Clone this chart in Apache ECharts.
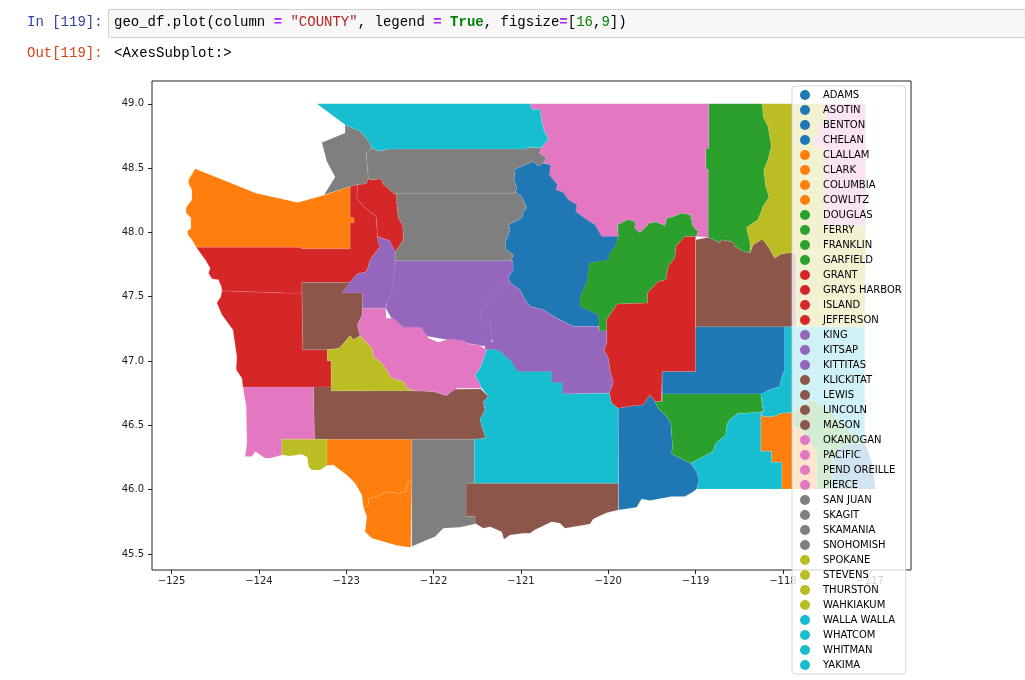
<!DOCTYPE html>
<html>
<head>
<meta charset="utf-8">
<style>
    html,body {margin:0;padding:0;background:#fff;width:1025px;height:680px;overflow:hidden;}
    #main {position:absolute;left:0;top:0;width:1025px;height:680px;}
    .mono {position:absolute;font-family:"Liberation Mono",monospace;font-size:14px;line-height:16px;white-space:pre;}
    .box {position:absolute;left:108px;top:9px;width:925px;height:27px;background:#f7f7f7;border:1px solid #cfcfcf;border-radius:2px;}
    .op {color:#aa22ff;font-weight:bold;}
    .str {color:#ba2121;}
    .kw {color:#008000;font-weight:bold;}
    .num {color:#008000;}
</style>
</head>
<body>
<div id="main"></div>
<div class="box"></div>
<div class="mono" style="left:27px;top:14px;color:#303f9f">In [119]:</div>
<div class="mono" style="left:114px;top:14px;color:#000">geo_df.plot(column <span class="op">=</span> <span class="str">"COUNTY"</span>, legend <span class="op">=</span> <span class="kw">True</span>, figsize<span class="op">=</span>[<span class="num">16</span>,<span class="num">9</span>])</div>
<div class="mono" style="left:27px;top:45px;color:#d84315">Out[119]:</div>
<div class="mono" style="left:114px;top:45px;color:#000">&lt;AxesSubplot:&gt;</div>
<script src="https://cdn.jsdelivr.net/npm/echarts@6/dist/echarts.min.js"></script>
<script>
// county outlines, lon/lat
var ADAMS = [[-119.000,47.266],[-117.978,47.266],[-117.978,46.931],[-118.016,46.866],[-118.035,46.801],[-118.150,46.776],[-118.245,46.744],[-119.382,46.744],[-119.382,46.918],[-119.000,46.918]];
var ASOTIN = [[-117.063,46.361],[-116.986,46.231],[-116.937,46.005],[-117.425,46.005],[-117.425,46.244],[-117.329,46.342],[-117.197,46.361]];
var BENTON = [[-119.523,46.737],[-119.465,46.685],[-119.428,46.633],[-119.332,46.568],[-119.282,46.516],[-119.263,46.334],[-119.274,46.278],[-119.057,46.205],[-118.988,46.140],[-118.959,46.075],[-118.988,46.005],[-119.027,45.984],[-119.122,45.946],[-119.274,45.946],[-119.523,45.915],[-119.618,45.928],[-119.675,45.863],[-119.881,45.842],[-119.885,46.633],[-119.732,46.651],[-119.599,46.659]];
var CHELAN = [[-121.067,48.492],[-120.953,48.526],[-120.858,48.551],[-120.801,48.518],[-120.744,48.539],[-120.659,48.526],[-120.209,48.176],[-119.885,47.968],[-120.038,47.476],[-120.103,47.268],[-120.400,47.268],[-120.590,47.333],[-120.744,47.398],[-120.896,47.423],[-120.953,47.476],[-121.010,47.553],[-121.125,47.608],[-121.144,47.657],[-121.087,47.709],[-121.117,47.773],[-121.087,47.826],[-121.170,47.864],[-121.182,47.917],[-121.125,48.020],[-121.144,48.059],[-120.991,48.111],[-120.972,48.162],[-120.934,48.189],[-120.991,48.279],[-121.067,48.318],[-121.048,48.344],[-121.079,48.409]];
var CLALLAM = [[-124.729,48.494],[-124.031,48.305],[-123.554,48.232],[-123.268,48.287],[-122.955,48.357],[-122.955,48.113],[-122.910,48.113],[-122.910,48.074],[-122.955,48.074],[-122.955,47.872],[-123.516,47.872],[-123.516,47.884],[-124.717,47.884],[-124.767,47.942],[-124.812,47.980],[-124.818,48.010],[-124.778,48.033],[-124.778,48.111],[-124.832,48.150],[-124.835,48.189],[-124.812,48.213],[-124.767,48.253],[-124.767,48.331],[-124.805,48.380],[-124.805,48.409]];
var CLARK = [[-122.803,45.860],[-122.764,45.790],[-122.784,45.673],[-122.707,45.622],[-122.574,45.596],[-122.440,45.570],[-122.345,45.557],[-122.261,45.552],[-122.249,46.075],[-122.288,46.062],[-122.326,45.984],[-122.403,45.972],[-122.535,45.984],[-122.650,45.946],[-122.746,45.933],[-122.746,45.881]];
var COLUMBIA = [[-118.253,46.594],[-118.226,46.568],[-118.112,46.568],[-118.016,46.594],[-117.901,46.599],[-117.883,46.594],[-117.883,46.490],[-117.806,46.478],[-117.615,46.296],[-117.615,46.005],[-118.012,46.005],[-118.012,46.213],[-118.130,46.213],[-118.130,46.299],[-118.253,46.299]];
var COWLITZ = [[-123.222,46.392],[-122.249,46.392],[-122.249,46.075],[-122.288,46.062],[-122.326,45.984],[-122.403,45.972],[-122.535,45.984],[-122.650,45.946],[-122.746,45.933],[-122.746,45.881],[-122.803,45.860],[-122.821,45.959],[-122.898,46.050],[-122.993,46.114],[-123.146,46.192],[-123.222,46.187]];
var DOUGLAS = [[-119.885,47.968],[-119.897,48.059],[-119.771,48.103],[-119.694,48.085],[-119.694,48.033],[-119.637,47.999],[-119.523,48.077],[-119.446,48.080],[-119.351,48.053],[-119.332,48.111],[-119.256,48.123],[-119.160,48.150],[-119.057,48.137],[-119.027,48.046],[-118.970,48.007],[-118.988,47.968],[-119.122,47.968],[-119.225,47.890],[-119.237,47.800],[-119.313,47.735],[-119.340,47.631],[-119.428,47.618],[-119.549,47.528],[-119.549,47.450],[-119.897,47.444],[-120.018,47.320],[-120.018,47.234],[-120.103,47.234],[-120.114,47.359],[-120.324,47.423],[-120.324,47.501],[-120.247,47.605],[-120.217,47.761],[-120.133,47.773],[-120.000,47.787],[-119.980,47.839],[-119.923,47.890]];
var FERRY = [[-118.848,49.000],[-118.233,49.000],[-118.226,48.901],[-118.169,48.823],[-118.130,48.668],[-118.169,48.564],[-118.218,48.487],[-118.195,48.357],[-118.158,48.274],[-118.226,48.201],[-118.283,48.098],[-118.416,48.038],[-118.370,47.903],[-118.378,47.839],[-118.473,47.859],[-118.550,47.890],[-118.570,47.924],[-118.702,47.942],[-118.722,47.917],[-118.856,47.963],[-118.856,48.492],[-118.882,48.492],[-118.882,48.655],[-118.848,48.655]];
var FRANKLIN = [[-119.465,46.685],[-119.382,46.685],[-119.382,46.744],[-118.253,46.744],[-118.233,46.641],[-118.218,46.607],[-118.416,46.594],[-118.512,46.594],[-118.615,46.542],[-118.645,46.490],[-118.653,46.425],[-118.767,46.361],[-118.798,46.301],[-118.874,46.270],[-119.057,46.205],[-119.274,46.278],[-119.263,46.334],[-119.282,46.516],[-119.332,46.568],[-119.428,46.633]];
var GARFIELD = [[-117.883,46.594],[-117.749,46.677],[-117.654,46.698],[-117.520,46.633],[-117.349,46.529],[-117.197,46.425],[-117.063,46.361],[-117.197,46.361],[-117.329,46.342],[-117.425,46.244],[-117.425,46.005],[-117.615,46.005],[-117.615,46.296],[-117.806,46.478],[-117.883,46.490]];
var GRANT = [[-119.122,47.968],[-118.988,47.968],[-119.000,47.966],[-119.000,46.918],[-119.382,46.918],[-119.389,46.744],[-119.389,46.685],[-119.465,46.685],[-119.523,46.737],[-119.599,46.659],[-119.732,46.651],[-119.885,46.633],[-119.961,46.672],[-119.988,46.750],[-119.943,46.828],[-119.980,46.931],[-120.000,47.022],[-120.049,47.087],[-120.018,47.139],[-120.018,47.320],[-119.897,47.444],[-119.549,47.450],[-119.549,47.528],[-119.428,47.618],[-119.340,47.631],[-119.313,47.735],[-119.237,47.800],[-119.225,47.890]];
var GRAYS_HARBOR = [[-124.423,47.546],[-123.680,47.528],[-123.508,47.528],[-123.497,47.087],[-123.215,47.087],[-123.215,47.001],[-123.173,47.001],[-123.173,46.797],[-124.183,46.797],[-124.194,46.866],[-124.260,46.931],[-124.252,47.034],[-124.297,47.242],[-124.363,47.304],[-124.423,47.359],[-124.481,47.450],[-124.435,47.501]];
var ISLAND = [[-122.872,48.372],[-122.776,48.378],[-122.746,48.417],[-122.707,48.409],[-122.601,48.417],[-122.574,48.375],[-122.478,48.318],[-122.421,48.292],[-122.421,48.230],[-122.403,48.113],[-122.352,48.059],[-122.345,47.942],[-122.440,47.845],[-122.506,47.937],[-122.593,47.955],[-122.643,47.968],[-122.658,48.123],[-122.803,48.201],[-122.879,48.267]];
var JEFFERSON = [[-122.955,48.357],[-122.872,48.372],[-122.879,48.267],[-122.803,48.201],[-122.658,48.123],[-122.643,47.968],[-122.612,47.890],[-122.726,47.787],[-122.764,47.696],[-122.879,47.675],[-122.955,47.610],[-123.508,47.610],[-123.508,47.528],[-123.680,47.528],[-124.423,47.546],[-124.431,47.579],[-124.462,47.631],[-124.538,47.639],[-124.577,47.683],[-124.557,47.722],[-124.614,47.787],[-124.717,47.884],[-123.516,47.884],[-123.516,47.872],[-122.955,47.872],[-122.955,48.074],[-122.910,48.074],[-122.910,48.113],[-122.955,48.113]];
var KING = [[-122.440,47.779],[-121.090,47.779],[-121.087,47.709],[-121.144,47.657],[-121.125,47.608],[-121.239,47.242],[-121.388,47.110],[-122.154,47.203],[-122.440,47.281],[-122.547,47.411]];
var KITSAP = [[-122.643,47.968],[-122.593,47.955],[-122.506,47.937],[-122.478,47.903],[-122.440,47.845],[-122.440,47.779],[-122.460,47.631],[-122.478,47.528],[-122.535,47.450],[-122.547,47.411],[-122.815,47.411],[-122.815,47.528],[-123.050,47.528],[-122.955,47.618],[-122.879,47.675],[-122.764,47.696],[-122.726,47.787],[-122.612,47.890],[-122.643,47.929]];
var KITTITAS = [[-121.125,47.608],[-121.010,47.553],[-120.953,47.476],[-120.896,47.423],[-120.744,47.398],[-120.590,47.333],[-120.400,47.268],[-120.114,47.268],[-120.103,47.234],[-120.018,47.234],[-120.018,47.139],[-120.049,47.087],[-120.000,47.022],[-119.980,46.931],[-119.943,46.828],[-119.988,46.750],[-120.522,46.744],[-121.010,46.814],[-121.391,47.087],[-121.411,47.094],[-121.411,47.139],[-121.323,47.151],[-121.353,47.294],[-121.430,47.294],[-121.468,47.372],[-121.316,47.528],[-121.239,47.579]];
var KLICKITAT = [[-121.628,46.050],[-119.885,46.050],[-119.885,45.842],[-120.018,45.821],[-120.171,45.772],[-120.209,45.733],[-120.495,45.700],[-120.552,45.739],[-120.647,45.751],[-120.839,45.687],[-120.896,45.661],[-120.972,45.661],[-121.125,45.648],[-121.193,45.614],[-121.220,45.673],[-121.353,45.712],[-121.430,45.700],[-121.525,45.739],[-121.525,45.790],[-121.628,45.790]];
var LEWIS = [[-123.375,46.797],[-123.173,46.797],[-123.173,46.768],[-122.307,46.770],[-122.212,46.768],[-122.002,46.762],[-121.849,46.731],[-121.792,46.781],[-121.460,46.783],[-121.373,46.723],[-121.430,46.682],[-121.411,46.620],[-121.468,46.542],[-121.403,46.400],[-121.533,46.392],[-123.364,46.392]];
var LINCOLN = [[-118.996,47.942],[-118.856,47.963],[-118.722,47.917],[-118.702,47.942],[-118.570,47.924],[-118.550,47.890],[-118.473,47.859],[-118.378,47.839],[-118.341,47.903],[-118.233,47.948],[-118.169,47.890],[-118.093,47.800],[-118.016,47.833],[-117.909,47.843],[-117.844,47.831],[-117.844,47.266],[-118.996,47.266]];
var MASON = [[-123.508,47.610],[-122.955,47.610],[-123.050,47.528],[-122.815,47.528],[-122.815,47.359],[-122.872,47.281],[-122.841,47.196],[-122.918,47.164],[-122.955,47.196],[-123.013,47.151],[-123.081,47.100],[-123.215,47.087],[-123.497,47.087]];
var OKANOGAN = [[-120.876,49.000],[-120.896,48.979],[-120.858,48.953],[-120.781,48.959],[-120.762,48.862],[-120.736,48.798],[-120.686,48.725],[-120.762,48.660],[-120.789,48.617],[-120.705,48.578],[-120.744,48.539],[-120.659,48.526],[-120.675,48.448],[-120.583,48.370],[-120.598,48.331],[-120.515,48.310],[-120.458,48.253],[-120.361,48.214],[-120.373,48.162],[-120.247,48.098],[-120.152,48.059],[-120.075,47.968],[-119.885,47.968],[-119.897,48.059],[-119.771,48.103],[-119.694,48.085],[-119.694,48.033],[-119.637,47.999],[-119.523,48.077],[-119.446,48.080],[-119.351,48.053],[-119.332,48.111],[-119.256,48.123],[-119.160,48.150],[-119.057,48.137],[-119.027,48.046],[-118.970,48.007],[-118.988,47.968],[-118.856,47.963],[-118.856,48.492],[-118.882,48.492],[-118.882,48.655],[-118.848,48.655],[-118.848,49.000]];
var PACIFIC = [[-124.183,46.797],[-123.375,46.797],[-123.364,46.392],[-123.737,46.392],[-123.737,46.270],[-123.871,46.244],[-123.928,46.244],[-124.042,46.296],[-124.080,46.257],[-124.157,46.257],[-124.137,46.361],[-124.145,46.646]];
var PEND_OREILLE = [[-117.509,49.000],[-117.051,49.000],[-117.051,48.051],[-117.517,48.051],[-117.517,48.668],[-117.646,48.668],[-117.646,48.746],[-117.586,48.746],[-117.586,48.850],[-117.509,48.850]];
var PIERCE = [[-122.815,47.411],[-122.547,47.411],[-122.543,47.333],[-122.460,47.333],[-122.345,47.263],[-122.143,47.263],[-122.059,47.178],[-121.945,47.146],[-121.831,47.170],[-121.659,47.157],[-121.582,47.131],[-121.487,47.126],[-121.391,47.087],[-121.468,46.944],[-121.525,46.892],[-121.448,46.789],[-121.734,46.789],[-121.849,46.731],[-122.002,46.762],[-122.212,46.768],[-122.307,46.789],[-122.345,46.840],[-122.478,46.866],[-122.593,46.983],[-122.689,47.034],[-122.707,47.100],[-122.841,47.196],[-122.872,47.281],[-122.815,47.359]];
var SAN_JUAN = [[-123.013,48.837],[-122.833,48.785],[-122.726,48.694],[-122.707,48.655],[-122.772,48.617],[-122.764,48.564],[-122.746,48.417],[-122.776,48.378],[-122.872,48.372],[-122.955,48.357],[-123.253,48.292],[-123.127,48.430],[-123.222,48.551],[-123.279,48.699],[-123.013,48.772]];
var SKAGIT = [[-122.707,48.655],[-122.612,48.632],[-122.517,48.648],[-120.934,48.648],[-120.922,48.660],[-120.762,48.660],[-120.789,48.617],[-120.705,48.578],[-120.744,48.539],[-120.801,48.518],[-120.858,48.551],[-120.953,48.526],[-121.067,48.492],[-121.079,48.409],[-121.048,48.344],[-121.067,48.318],[-121.067,48.305],[-122.460,48.305],[-122.574,48.375],[-122.601,48.417],[-122.707,48.409],[-122.746,48.417],[-122.764,48.564],[-122.772,48.617]];
var SKAMANIA = [[-122.249,46.392],[-121.533,46.392],[-121.533,46.050],[-121.628,46.050],[-121.628,45.790],[-121.525,45.790],[-121.525,45.733],[-121.697,45.708],[-121.888,45.700],[-121.983,45.634],[-122.078,45.609],[-122.249,45.557]];
var SNOHOMISH = [[-122.460,48.305],[-121.067,48.305],[-121.067,48.318],[-120.991,48.279],[-120.934,48.189],[-120.972,48.162],[-120.991,48.111],[-121.144,48.059],[-121.125,48.020],[-121.182,47.917],[-121.170,47.864],[-121.087,47.826],[-121.117,47.773],[-121.090,47.779],[-122.440,47.779],[-122.440,47.845],[-122.345,47.942],[-122.352,48.059],[-122.403,48.113],[-122.421,48.230],[-122.421,48.292]];
var SPOKANE = [[-117.844,47.831],[-117.715,47.857],[-117.555,47.802],[-117.463,47.903],[-117.372,48.051],[-117.051,48.051],[-117.063,47.266],[-117.844,47.266]];
var STEVENS = [[-118.233,49.000],[-117.509,49.000],[-117.509,48.850],[-117.586,48.850],[-117.586,48.746],[-117.646,48.746],[-117.646,48.668],[-117.517,48.668],[-117.517,48.051],[-117.372,48.051],[-117.463,47.903],[-117.555,47.802],[-117.715,47.857],[-117.844,47.831],[-117.909,47.843],[-118.016,47.833],[-118.093,47.800],[-118.169,47.890],[-118.233,47.948],[-118.341,47.903],[-118.378,47.839],[-118.370,47.903],[-118.416,48.038],[-118.283,48.098],[-118.226,48.201],[-118.158,48.274],[-118.195,48.357],[-118.218,48.487],[-118.169,48.564],[-118.130,48.668],[-118.169,48.823],[-118.226,48.901]];
var THURSTON = [[-123.215,47.087],[-123.081,47.100],[-123.013,47.151],[-122.955,47.196],[-122.918,47.164],[-122.841,47.196],[-122.707,47.100],[-122.689,47.034],[-122.593,46.983],[-122.478,46.866],[-122.345,46.840],[-122.307,46.789],[-122.212,46.768],[-123.173,46.768],[-123.173,47.001],[-123.215,47.001]];
var WAHKIAKUM = [[-123.737,46.392],[-123.222,46.392],[-123.222,46.187],[-123.299,46.153],[-123.394,46.153],[-123.432,46.179],[-123.444,46.252],[-123.508,46.275],[-123.642,46.262],[-123.737,46.270]];
var WALLA_WALLA = [[-119.057,46.205],[-118.874,46.270],[-118.798,46.301],[-118.767,46.361],[-118.653,46.425],[-118.645,46.490],[-118.615,46.542],[-118.512,46.594],[-118.416,46.594],[-118.218,46.607],[-118.253,46.594],[-118.253,46.299],[-118.130,46.299],[-118.130,46.213],[-118.012,46.213],[-118.012,46.005],[-118.988,46.005],[-118.959,46.075],[-118.988,46.140]];
var WHATCOM = [[-123.336,49.000],[-120.876,49.000],[-120.896,48.979],[-120.858,48.953],[-120.781,48.959],[-120.762,48.862],[-120.736,48.798],[-120.686,48.725],[-120.762,48.660],[-120.922,48.660],[-120.934,48.648],[-122.517,48.648],[-122.612,48.632],[-122.707,48.655],[-122.726,48.694],[-122.833,48.785],[-123.013,48.837]];
var WHITMAN = [[-117.978,47.266],[-117.063,47.266],[-117.063,46.361],[-117.197,46.425],[-117.349,46.529],[-117.520,46.633],[-117.654,46.698],[-117.749,46.677],[-117.883,46.594],[-117.901,46.599],[-118.016,46.594],[-118.112,46.568],[-118.226,46.568],[-118.253,46.594],[-118.218,46.607],[-118.233,46.641],[-118.253,46.744],[-118.150,46.776],[-118.035,46.801],[-118.016,46.866],[-117.978,46.931]];
var YAKIMA = [[-121.391,47.087],[-121.296,47.092],[-121.239,47.073],[-121.105,46.996],[-121.041,46.918],[-120.647,46.918],[-120.647,46.832],[-120.522,46.832],[-120.522,46.744],[-119.988,46.750],[-119.961,46.672],[-119.885,46.633],[-119.885,46.050],[-121.533,46.050],[-121.533,46.392],[-121.403,46.400],[-121.468,46.542],[-121.411,46.620],[-121.430,46.682],[-121.373,46.723],[-121.448,46.789],[-121.525,46.892],[-121.468,46.944]];

var countyNames = ['ADAMS','ASOTIN','BENTON','CHELAN','CLALLAM','CLARK','COLUMBIA','COWLITZ','DOUGLAS','FERRY','FRANKLIN','GARFIELD','GRANT','GRAYS HARBOR','ISLAND','JEFFERSON','KING','KITSAP','KITTITAS','KLICKITAT','LEWIS','LINCOLN','MASON','OKANOGAN','PACIFIC','PEND OREILLE','PIERCE','SAN JUAN','SKAGIT','SKAMANIA','SNOHOMISH','SPOKANE','STEVENS','THURSTON','WAHKIAKUM','WALLA WALLA','WHATCOM','WHITMAN','YAKIMA'];
var countyShapes = [ADAMS,ASOTIN,BENTON,CHELAN,CLALLAM,CLARK,COLUMBIA,COWLITZ,DOUGLAS,FERRY,FRANKLIN,GARFIELD,GRANT,GRAYS_HARBOR,ISLAND,JEFFERSON,KING,KITSAP,KITTITAS,KLICKITAT,LEWIS,LINCOLN,MASON,OKANOGAN,PACIFIC,PEND_OREILLE,PIERCE,SAN_JUAN,SKAGIT,SKAMANIA,SNOHOMISH,SPOKANE,STEVENS,THURSTON,WAHKIAKUM,WALLA_WALLA,WHATCOM,WHITMAN,YAKIMA];
var countyColors = ['#1f77b4','#1f77b4','#1f77b4','#1f77b4','#ff7f0e','#ff7f0e','#ff7f0e','#ff7f0e','#2ca02c','#2ca02c','#2ca02c','#2ca02c','#d62728','#d62728','#d62728','#d62728','#9467bd','#9467bd','#9467bd','#8c564b','#8c564b','#8c564b','#8c564b','#e377c2','#e377c2','#e377c2','#e377c2','#7f7f7f','#7f7f7f','#7f7f7f','#7f7f7f','#bcbd22','#bcbd22','#bcbd22','#bcbd22','#17becf','#17becf','#17becf','#17becf'];
var lonTicks = [-125,-124,-123,-122,-121,-120,-119,-118,-117];
var latTicks = [45.5,46,46.5,47,47.5,48,48.5,49];

var myChart = echarts.init(document.getElementById('main'));

function drawCounty(params, api) {
    // one polygon per series, drawn once from the whole outline
    if (params.dataIndex !== 0) return null;
    var shape = countyShapes[params.seriesIndex];
    var pts = [];
    for (var i = 0; i < shape.length; i++) {
        pts.push(api.coord(shape[i]));
    }
    return {
        type: 'polygon',
        shape: {points: pts},
        style: {fill: countyColors[params.seriesIndex], stroke: 'rgba(255,255,255,0.2)', lineWidth: 0.5}
    };
}

var seriesList = [];
for (var i = 0; i < countyNames.length; i++) {
    seriesList.push({
        type: 'custom',
        name: countyNames[i],
        coordinateSystem: 'cartesian2d',
        renderItem: drawCounty,
        data: countyShapes[i],
        encode: {x: 0, y: 1},
        itemStyle: {color: countyColors[i]},
        clip: false,
        silent: true
    });
}

var tickFont = {color: '#222', fontSize: 10, fontFamily: '"DejaVu Sans"'};
var option = {
    animation: false,
    backgroundColor: '#fff',
    grid: {show: true, left: 152, right: 114, top: 81, bottom: 110, borderColor: '#222', borderWidth: 1, backgroundColor: 'transparent'},
    xAxis: {
        type: 'value', min: -125.224, max: -116.533,
        splitLine: {show: false},
        axisLine: {show: false},
        axisTick: {show: true, length: 4, lineStyle: {color: '#222'}, customValues: lonTicks},
        axisLabel: Object.assign({margin: 6, customValues: lonTicks, formatter: function (v) { return String(v).replace('-', '\u2212'); }}, tickFont)
    },
    yAxis: {
        type: 'value', min: 45.375, max: 49.177,
        splitLine: {show: false},
        axisLine: {show: false},
        axisTick: {show: true, length: 4, lineStyle: {color: '#222'}, customValues: latTicks},
        axisLabel: Object.assign({margin: 8, customValues: latTicks, formatter: function (v) { return v.toFixed(1); }}, tickFont)
    },
    legend: {
        orient: 'vertical',
        left: 792,
        top: 86,
        data: countyNames,
        icon: 'circle',
        itemWidth: 26,
        itemHeight: 10,
        itemGap: 5,
        selectedMode: false,
        padding: [4, 4, 4, 8],
        backgroundColor: 'rgba(255,255,255,0.8)',
        borderColor: 'rgba(204,204,204,0.8)',
        borderWidth: 1,
        borderRadius: 3,
        textStyle: {color: '#000', fontSize: 10, lineHeight: 10, fontFamily: '"DejaVu Sans"'}
    },
    series: seriesList
};
myChart.setOption(option);
</script>
</body>
</html>
